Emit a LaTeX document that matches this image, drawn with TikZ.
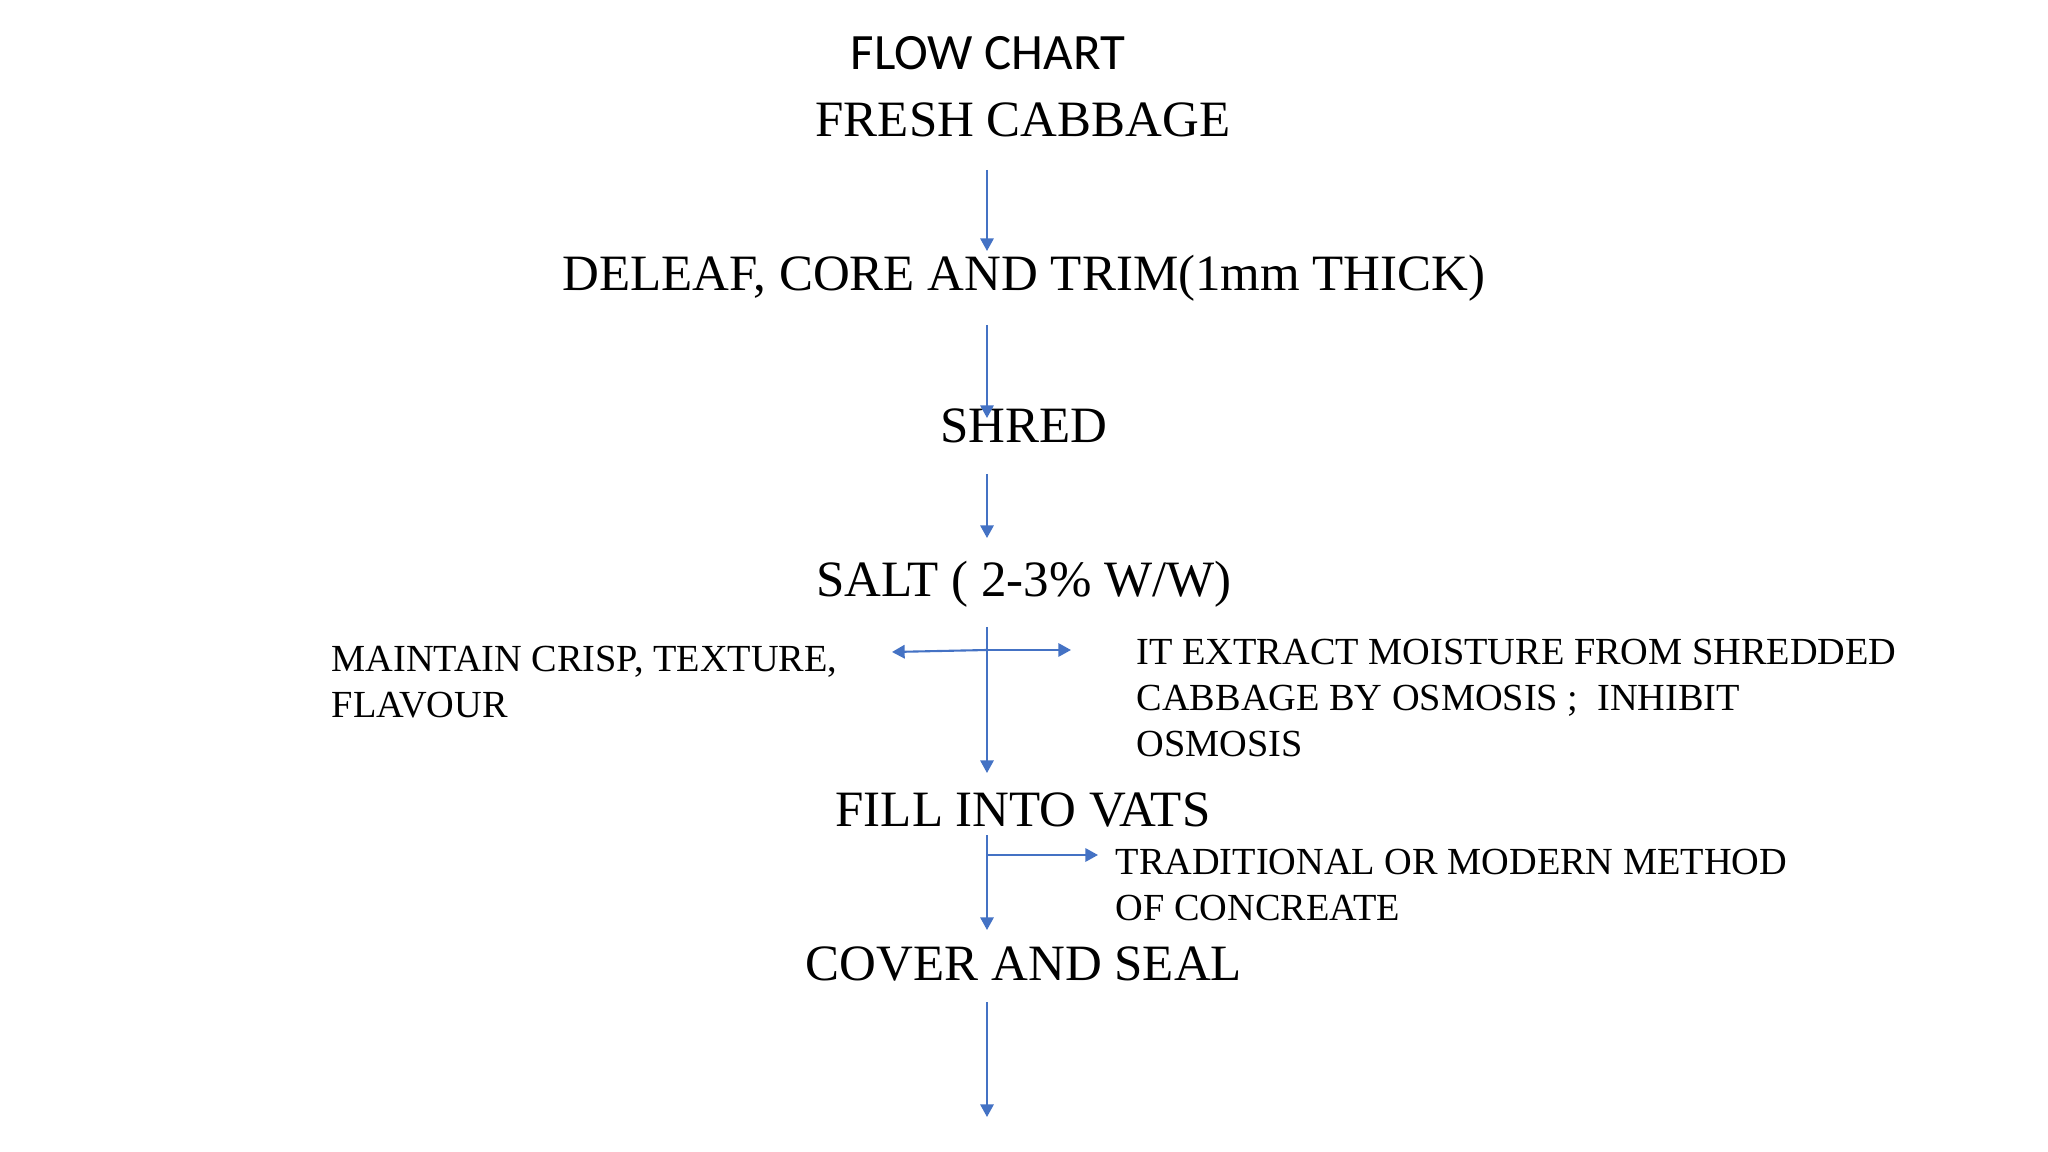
\documentclass[tikz,border=0pt]{standalone}
\usepackage{fontspec}
\setmainfont{Liberation Serif}
\newfontfamily\headfont{Carlito}
\usetikzlibrary{arrows.meta}
\definecolor{flowblue}{HTML}{4472C4}
\tikzset{
  flow/.style={draw=flowblue, line width=0.6pt, -{Triangle[width=3.8pt,length=3.6pt]}},
  stepname/.style={anchor=base, inner sep=0pt, font=\fontsize{14.5}{17}\selectfont},
  sidenote/.style={anchor=north west, inner sep=0pt, align=left, font=\fontsize{10.9}{13.2}\selectfont}
}
\begin{document}
\begin{tikzpicture}
  \useasboundingbox (0,0) rectangle (20.48,-11.52);
  \node[stepname, font=\headfont\fontsize{14.5}{17}\selectfont] (title) at (9.88,-0.70) {FLOW CHART};
  \node[stepname] (fresh) at (10.23,-1.37) {FRESH CABBAGE};
  \node[stepname] (deleaf) at (10.24,-2.91) {DELEAF, CORE AND TRIM(1mm THICK)};
  \node[stepname] (shred) at (10.24,-4.43) {SHRED};
  \node[stepname] (salt) at (10.24,-5.97) {SALT ( 2-3\% W/W)};
  \node[stepname] (fill) at (10.23,-8.27) {FILL INTO VATS};
  \node[stepname] (cover) at (10.24,-9.80) {COVER AND SEAL};
  \node[sidenote] (crisp) at (3.31,-6.45) {MAINTAIN CRISP, TEXTURE,\\FLAVOUR};
  \node[sidenote] (osmo) at (11.36,-6.38) {IT EXTRACT MOISTURE FROM SHREDDED\\CABBAGE BY OSMOSIS ; \ INHIBIT\\OSMOSIS};
  \node[sidenote] (method) at (11.15,-8.48) {TRADITIONAL OR MODERN METHOD\\OF CONCREATE};
  \foreach \nm/\y in {a/1.70,b/2.51,c/3.25,d/4.18,e/4.74,f/5.38,g/6.27,h/7.73,i/8.35,j/9.30,k/10.02,l/11.17}
    \coordinate (\nm) at (9.87,-\y);
  \coordinate (hub) at (9.87,-6.50);
  \coordinate (lt) at (8.92,-6.52);
  \coordinate (rt) at (10.71,-6.50);
  \coordinate (br) at (9.87,-8.55);
  \coordinate (bt) at (10.98,-8.55);
  \draw[flow] (a) -- (b);
  \draw[flow] (c) -- (d);
  \draw[flow] (e) -- (f);
  \draw[flow] (g) -- (h);
  \draw[flow] (hub) -- (lt);
  \draw[flow] (hub) -- (rt);
  \draw[flow] (i) -- (j);
  \draw[flow] (br) -- (bt);
  \draw[flow] (k) -- (l);
\end{tikzpicture}
\end{document}
